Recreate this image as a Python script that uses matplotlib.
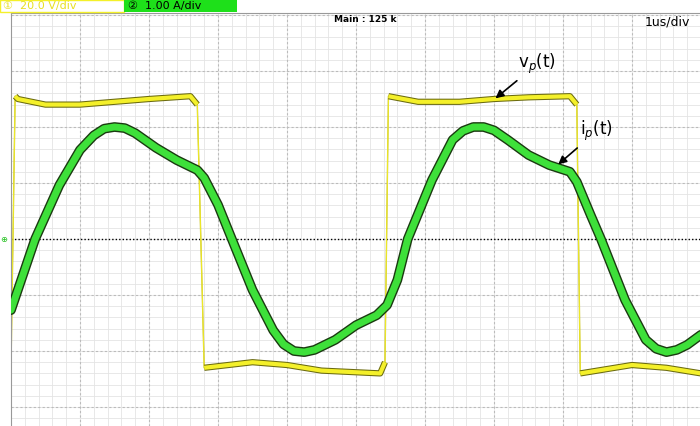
import matplotlib.pyplot as plt
import numpy as np

# time in us, amplitude in divisions
i_time = [0, 0.35, 0.7, 1.0, 1.2, 1.35, 1.5, 1.65, 1.8, 2.1, 2.4, 2.7, 2.8, 3.0,
          3.2, 3.5, 3.8, 3.95, 4.1, 4.25, 4.4, 4.7, 5.0, 5.3, 5.45, 5.6, 5.75,
          6.1, 6.4, 6.55, 6.7, 6.85, 7.0, 7.2, 7.5, 7.8, 8.1, 8.2, 8.4, 8.55,
          8.9, 9.2, 9.35, 9.5, 9.65, 9.8, 10]
i_div = [-1.27, 0, 0.96, 1.59, 1.85, 1.97, 2.0, 1.98, 1.89, 1.63, 1.41, 1.23,
         1.09, 0.61, 0, -0.91, -1.63, -1.88, -2.0, -2.02, -1.98, -1.8, -1.54,
         -1.36, -1.18, -0.73, 0, 1.05, 1.77, 1.93, 2.0, 2.0, 1.94, 1.77, 1.5,
         1.32, 1.2, 1.02, 0.43, 0, -1.09, -1.8, -1.96, -2.02, -1.98, -1.89,
         -1.71]
v_time = [0, 0.06, 0.1, 0.5, 1.0, 1.5, 2.0, 2.6, 2.7, 2.8, 3.5, 4.0, 4.5, 5.35,
          5.42, 5.47, 5.9, 6.5, 7.0, 7.5, 8.1, 8.2, 8.25, 9.0, 9.5, 10]
v_div = [-2.3, 2.55, 2.5, 2.4, 2.4, 2.45, 2.5, 2.55, 2.4, -2.3, -2.2, -2.25,
         -2.35, -2.4, -2.2, 2.55, 2.45, 2.45, 2.5, 2.53, 2.55, 2.4, -2.4, -2.25,
         -2.3, -2.4]

fig = plt.figure(figsize=(7, 4.26), dpi=100)
ax = fig.add_axes([11 / 700, 0, 689 / 700, 413 / 426])
ax.set_xlim(0, 689 / 69)
ax.set_ylim((239 - 426) / 56, (239 - 13) / 56)

for x in np.arange(0, 10.01, 0.2):
    ax.axvline(x, color="#e4e4e4", lw=0.6, zorder=0)
for y in np.arange(-4, 4.01, 0.2):
    ax.axhline(y, color="#e4e4e4", lw=0.6, zorder=0)
for x in range(1, 10):
    ax.axvline(x, color="#bbbbbb", lw=0.8, ls=(0, (2, 2)), zorder=0)
for y in [-3, -2, -1, 1, 2, 3, 4]:
    ax.axhline(y, color="#bbbbbb", lw=0.8, ls=(0, (2, 2)), zorder=0)
ax.axhline(0, color="black", lw=1.0, ls=(0, (1, 1.5)), zorder=1)

# switching edges thin, plateaus thick
vt = np.array(v_time)
vd = np.array(v_div)
ax.plot(vt, vd, color="#c8c020", lw=1.0, zorder=2)
ax.plot(vt, vd, color="#f4f02a", lw=0.6, zorder=2)
steep = np.abs(np.diff(vd)) > 2
start = 0
for k in list(np.where(steep)[0]) + [len(vd) - 1]:
    seg = slice(start, k + 1)
    if k + 1 - start > 1:
        ax.plot(vt[seg], vd[seg], color="#6b6b10", lw=4.5, solid_capstyle="butt", zorder=2)
        ax.plot(vt[seg], vd[seg], color="#f4f02a", lw=3.0, solid_capstyle="butt", zorder=3)
    start = k + 1
ax.plot(i_time, i_div, color="#1a3a10", lw=7, solid_capstyle="round", zorder=4)
ax.plot(i_time, i_div, color="#3ee03a", lw=5, solid_capstyle="round", zorder=5)

ax.annotate("v$_p$(t)", xy=(6.99, 2.48), xytext=(7.35, 3.05), fontsize=12,
            arrowprops=dict(arrowstyle="-|>", color="black", lw=1.2), zorder=6)
ax.annotate("i$_p$(t)", xy=(7.9, 1.3), xytext=(8.25, 1.85), fontsize=12,
            arrowprops=dict(arrowstyle="-|>", color="black", lw=1.2), zorder=6)

for s in ["right", "bottom"]:
    ax.spines[s].set_visible(False)
for s in ["left", "top"]:
    ax.spines[s].set_color("#999999")
ax.set_xticks([])
ax.set_yticks([])

fig.text(365 / 700, 1 - 20 / 426, "Main : 125 k", fontsize=6.5, fontweight="bold",
         ha="center", va="center")
fig.text(690 / 700, 1 - 22 / 426, "1us/div", fontsize=9, ha="right", va="center")
fig.patches.append(plt.Rectangle((0, 1 - 12 / 426), 124 / 700, 12 / 426,
                                 transform=fig.transFigure, fc="white", ec="#f4f02a", lw=1))
fig.patches.append(plt.Rectangle((124 / 700, 1 - 12 / 426), 113 / 700, 12 / 426,
                                 transform=fig.transFigure, fc="#1ee01a", ec="none"))
fig.text(3 / 700, 1 - 6 / 426, "①  20.0 V/div", fontsize=8, color="#e8e020", va="center")
fig.text(128 / 700, 1 - 6 / 426, "②  1.00 A/div", fontsize=8, color="black", va="center")
fig.text(4 / 700, 1 - 239 / 426, "⊕", fontsize=6, color="#1ec01a", ha="center", va="center")

fig.savefig("out.png", dpi=100)
